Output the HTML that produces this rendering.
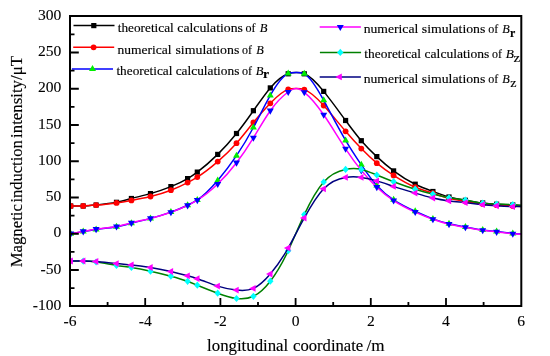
<!DOCTYPE html><html><head><meta charset="utf-8"><style>html,body{margin:0;padding:0;background:#fff;width:550px;height:356px;overflow:hidden}svg{display:block}text{font-family:"Liberation Serif",serif;fill:#000;stroke:#000;stroke-width:0.15}</style></head><body>
<svg width="550" height="356" viewBox="0 0 550 356">
<defs><clipPath id="c"><rect x="70.0" y="16.0" width="451.3" height="290.0"/></clipPath></defs>
<rect width="550" height="356" fill="#fff"/>
<g clip-path="url(#c)">
<path d="M70.70,206.00 C74.87,206.08 79.03,206.16 83.20,206.00 C87.50,205.83 91.80,205.41 96.10,205.00 C102.90,204.35 109.70,203.72 116.50,202.30 C121.47,201.26 126.43,199.81 131.40,198.50 C137.77,196.83 144.13,195.40 150.50,193.60 C157.30,191.68 164.10,189.32 170.90,186.60 C176.47,184.37 182.03,181.90 187.60,178.60 C190.83,176.69 194.07,174.49 197.30,172.10 C204.10,167.06 210.90,161.13 217.70,154.40 C223.97,148.20 230.23,141.31 236.50,133.50 C242.13,126.48 247.77,118.70 253.40,110.70 C259.03,102.70 264.67,94.48 270.30,87.90 C276.27,80.93 282.23,75.80 288.20,73.80 C290.88,72.90 293.57,72.63 296.25,72.60 C298.93,72.57 301.62,72.78 304.30,73.80 C310.77,76.25 317.23,83.39 323.70,91.40 C331.00,100.44 338.30,110.57 345.60,120.50 C350.83,127.62 356.07,134.62 361.30,140.70 C366.47,146.70 371.63,151.80 376.80,156.60 C382.40,161.81 388.00,166.67 393.60,170.90 C400.80,176.34 408.00,180.73 415.20,184.20 C421.10,187.05 427.00,189.27 432.90,191.50 C438.27,193.52 443.63,195.55 449.00,197.00 C454.47,198.48 459.93,199.37 465.40,200.30 C471.17,201.28 476.93,202.30 482.70,203.00 C487.33,203.57 491.97,203.93 496.60,204.20 C502.00,204.52 507.40,204.71 512.80,205.00 C515.63,205.15 518.47,205.33 521.30,205.50" fill="none" stroke="#000000" stroke-width="1.5"/>
<rect x="68.10" y="203.40" width="5.20" height="5.20" fill="#000000"/>
<rect x="80.60" y="203.40" width="5.20" height="5.20" fill="#000000"/>
<rect x="93.50" y="202.40" width="5.20" height="5.20" fill="#000000"/>
<rect x="113.90" y="199.70" width="5.20" height="5.20" fill="#000000"/>
<rect x="128.80" y="195.90" width="5.20" height="5.20" fill="#000000"/>
<rect x="147.90" y="191.00" width="5.20" height="5.20" fill="#000000"/>
<rect x="168.30" y="184.00" width="5.20" height="5.20" fill="#000000"/>
<rect x="185.00" y="176.00" width="5.20" height="5.20" fill="#000000"/>
<rect x="194.70" y="169.50" width="5.20" height="5.20" fill="#000000"/>
<rect x="215.10" y="151.80" width="5.20" height="5.20" fill="#000000"/>
<rect x="233.90" y="130.90" width="5.20" height="5.20" fill="#000000"/>
<rect x="250.80" y="108.10" width="5.20" height="5.20" fill="#000000"/>
<rect x="267.70" y="85.30" width="5.20" height="5.20" fill="#000000"/>
<rect x="285.60" y="71.20" width="5.20" height="5.20" fill="#000000"/>
<rect x="301.70" y="71.20" width="5.20" height="5.20" fill="#000000"/>
<rect x="321.10" y="88.80" width="5.20" height="5.20" fill="#000000"/>
<rect x="343.00" y="117.90" width="5.20" height="5.20" fill="#000000"/>
<rect x="358.70" y="138.10" width="5.20" height="5.20" fill="#000000"/>
<rect x="374.20" y="154.00" width="5.20" height="5.20" fill="#000000"/>
<rect x="391.00" y="168.30" width="5.20" height="5.20" fill="#000000"/>
<rect x="412.60" y="181.60" width="5.20" height="5.20" fill="#000000"/>
<rect x="430.30" y="188.90" width="5.20" height="5.20" fill="#000000"/>
<rect x="446.40" y="194.40" width="5.20" height="5.20" fill="#000000"/>
<rect x="462.80" y="197.70" width="5.20" height="5.20" fill="#000000"/>
<rect x="480.10" y="200.40" width="5.20" height="5.20" fill="#000000"/>
<rect x="494.00" y="201.60" width="5.20" height="5.20" fill="#000000"/>
<rect x="510.20" y="202.40" width="5.20" height="5.20" fill="#000000"/>
<path d="M70.70,206.00 C74.87,206.07 79.03,206.14 83.20,206.00 C87.50,205.85 91.80,205.48 96.10,205.10 C102.90,204.50 109.70,203.87 116.50,202.90 C121.47,202.19 126.43,201.31 131.40,200.40 C137.77,199.24 144.13,198.04 150.50,196.50 C157.30,194.86 164.10,192.83 170.90,190.20 C176.47,188.05 182.03,185.49 187.60,182.60 C190.83,180.92 194.07,179.13 197.30,177.10 C204.10,172.83 210.90,167.48 217.70,161.60 C223.97,156.18 230.23,150.32 236.50,143.20 C242.13,136.80 247.77,129.40 253.40,122.50 C259.03,115.60 264.67,109.21 270.30,103.30 C276.27,97.04 282.23,91.30 288.20,89.40 C290.88,88.54 293.57,88.46 296.25,88.50 C298.93,88.54 301.62,88.70 304.30,89.60 C310.77,91.77 317.23,98.26 323.70,105.50 C331.00,113.67 338.30,122.79 345.60,131.30 C350.83,137.40 356.07,143.20 361.30,148.60 C366.47,153.93 371.63,158.89 376.80,163.20 C382.40,167.87 388.00,171.78 393.60,175.40 C400.80,180.05 408.00,184.22 415.20,187.20 C421.10,189.64 427.00,191.29 432.90,193.20 C438.27,194.94 443.63,196.89 449.00,198.30 C454.47,199.74 459.93,200.63 465.40,201.50 C471.17,202.42 476.93,203.33 482.70,204.00 C487.33,204.54 491.97,204.92 496.60,205.20 C502.00,205.53 507.40,205.72 512.80,206.00 C515.63,206.15 518.47,206.32 521.30,206.50" fill="none" stroke="#ff0000" stroke-width="1.5"/>
<circle cx="70.70" cy="206.00" r="2.9" fill="#ff0000"/>
<circle cx="83.20" cy="206.00" r="2.9" fill="#ff0000"/>
<circle cx="96.10" cy="205.10" r="2.9" fill="#ff0000"/>
<circle cx="116.50" cy="202.90" r="2.9" fill="#ff0000"/>
<circle cx="131.40" cy="200.40" r="2.9" fill="#ff0000"/>
<circle cx="150.50" cy="196.50" r="2.9" fill="#ff0000"/>
<circle cx="170.90" cy="190.20" r="2.9" fill="#ff0000"/>
<circle cx="187.60" cy="182.60" r="2.9" fill="#ff0000"/>
<circle cx="197.30" cy="177.10" r="2.9" fill="#ff0000"/>
<circle cx="217.70" cy="161.60" r="2.9" fill="#ff0000"/>
<circle cx="236.50" cy="143.20" r="2.9" fill="#ff0000"/>
<circle cx="253.40" cy="122.50" r="2.9" fill="#ff0000"/>
<circle cx="270.30" cy="103.30" r="2.9" fill="#ff0000"/>
<circle cx="288.20" cy="89.40" r="2.9" fill="#ff0000"/>
<circle cx="304.30" cy="89.60" r="2.9" fill="#ff0000"/>
<circle cx="323.70" cy="105.50" r="2.9" fill="#ff0000"/>
<circle cx="345.60" cy="131.30" r="2.9" fill="#ff0000"/>
<circle cx="361.30" cy="148.60" r="2.9" fill="#ff0000"/>
<circle cx="376.80" cy="163.20" r="2.9" fill="#ff0000"/>
<circle cx="393.60" cy="175.40" r="2.9" fill="#ff0000"/>
<circle cx="415.20" cy="187.20" r="2.9" fill="#ff0000"/>
<circle cx="432.90" cy="193.20" r="2.9" fill="#ff0000"/>
<circle cx="449.00" cy="198.30" r="2.9" fill="#ff0000"/>
<circle cx="465.40" cy="201.50" r="2.9" fill="#ff0000"/>
<circle cx="482.70" cy="204.00" r="2.9" fill="#ff0000"/>
<circle cx="496.60" cy="205.20" r="2.9" fill="#ff0000"/>
<circle cx="512.80" cy="206.00" r="2.9" fill="#ff0000"/>
<path d="M70.70,233.70 C74.87,233.01 79.03,232.32 83.20,231.60 C87.50,230.86 91.80,230.09 96.10,229.50 C102.90,228.57 109.70,228.09 116.50,226.80 C121.47,225.86 126.43,224.48 131.40,223.20 C137.77,221.56 144.13,220.09 150.50,218.40 C157.30,216.60 164.10,214.56 170.90,212.10 C176.47,210.09 182.03,207.80 187.60,205.20 C190.83,203.69 194.07,202.07 197.30,199.90 C204.10,195.34 210.90,188.33 217.70,180.40 C223.97,173.09 230.23,165.00 236.50,155.70 C242.13,147.34 247.77,137.99 253.40,127.50 C259.03,117.01 264.67,105.36 270.30,95.40 C276.27,84.85 282.23,76.19 288.20,73.60 C290.88,72.43 293.57,72.49 296.25,72.50 C298.93,72.51 301.62,72.46 304.30,73.80 C310.77,77.04 317.23,88.36 323.70,100.30 C331.00,113.78 338.30,128.04 345.60,140.40 C350.83,149.26 356.07,157.14 361.30,164.80 C366.47,172.37 371.63,179.73 376.80,185.50 C382.40,191.76 388.00,196.15 393.60,199.80 C400.80,204.49 408.00,207.95 415.20,211.30 C421.10,214.05 427.00,216.72 432.90,218.90 C438.27,220.88 443.63,222.46 449.00,223.70 C454.47,224.96 459.93,225.87 465.40,226.90 C471.17,227.99 476.93,229.21 482.70,230.00 C487.33,230.63 491.97,230.99 496.60,231.50 C502.00,232.10 507.40,232.91 512.80,233.40 C515.63,233.66 518.47,233.83 521.30,234.00" fill="none" stroke="#0000ff" stroke-width="1.5"/>
<path d="M70.70,229.70L74.20,235.70L67.20,235.70Z" fill="#00ee00"/>
<path d="M83.20,227.60L86.70,233.60L79.70,233.60Z" fill="#00ee00"/>
<path d="M96.10,225.50L99.60,231.50L92.60,231.50Z" fill="#00ee00"/>
<path d="M116.50,222.80L120.00,228.80L113.00,228.80Z" fill="#00ee00"/>
<path d="M131.40,219.20L134.90,225.20L127.90,225.20Z" fill="#00ee00"/>
<path d="M150.50,214.40L154.00,220.40L147.00,220.40Z" fill="#00ee00"/>
<path d="M170.90,208.10L174.40,214.10L167.40,214.10Z" fill="#00ee00"/>
<path d="M187.60,201.20L191.10,207.20L184.10,207.20Z" fill="#00ee00"/>
<path d="M197.30,195.90L200.80,201.90L193.80,201.90Z" fill="#00ee00"/>
<path d="M217.70,176.40L221.20,182.40L214.20,182.40Z" fill="#00ee00"/>
<path d="M236.50,151.70L240.00,157.70L233.00,157.70Z" fill="#00ee00"/>
<path d="M253.40,123.50L256.90,129.50L249.90,129.50Z" fill="#00ee00"/>
<path d="M270.30,91.40L273.80,97.40L266.80,97.40Z" fill="#00ee00"/>
<path d="M288.20,69.60L291.70,75.60L284.70,75.60Z" fill="#00ee00"/>
<path d="M304.30,69.80L307.80,75.80L300.80,75.80Z" fill="#00ee00"/>
<path d="M323.70,96.30L327.20,102.30L320.20,102.30Z" fill="#00ee00"/>
<path d="M345.60,136.40L349.10,142.40L342.10,142.40Z" fill="#00ee00"/>
<path d="M361.30,160.80L364.80,166.80L357.80,166.80Z" fill="#00ee00"/>
<path d="M376.80,181.50L380.30,187.50L373.30,187.50Z" fill="#00ee00"/>
<path d="M393.60,195.80L397.10,201.80L390.10,201.80Z" fill="#00ee00"/>
<path d="M415.20,207.30L418.70,213.30L411.70,213.30Z" fill="#00ee00"/>
<path d="M432.90,214.90L436.40,220.90L429.40,220.90Z" fill="#00ee00"/>
<path d="M449.00,219.70L452.50,225.70L445.50,225.70Z" fill="#00ee00"/>
<path d="M465.40,222.90L468.90,228.90L461.90,228.90Z" fill="#00ee00"/>
<path d="M482.70,226.00L486.20,232.00L479.20,232.00Z" fill="#00ee00"/>
<path d="M496.60,227.50L500.10,233.50L493.10,233.50Z" fill="#00ee00"/>
<path d="M512.80,229.40L516.30,235.40L509.30,235.40Z" fill="#00ee00"/>
<path d="M70.70,233.70 C74.87,232.94 79.03,232.17 83.20,231.40 C87.50,230.60 91.80,229.80 96.10,229.20 C102.90,228.25 109.70,227.80 116.50,226.50 C121.47,225.55 126.43,224.14 131.40,222.90 C137.77,221.31 144.13,219.98 150.50,218.40 C157.30,216.71 164.10,214.72 170.90,212.30 C176.47,210.32 182.03,208.06 187.60,205.40 C190.83,203.85 194.07,202.18 197.30,200.20 C204.10,196.05 210.90,190.58 217.70,184.00 C223.97,177.93 230.23,170.91 236.50,162.70 C242.13,155.32 247.77,146.97 253.40,137.80 C259.03,128.63 264.67,118.63 270.30,110.70 C276.27,102.30 282.23,96.23 288.20,92.00 C290.88,90.10 293.57,88.57 296.25,88.60 C298.93,88.63 301.62,90.21 304.30,92.30 C310.77,97.35 317.23,105.40 323.70,114.80 C331.00,125.42 338.30,137.76 345.60,148.80 C350.83,156.71 356.07,163.96 361.30,170.40 C366.47,176.76 371.63,182.34 376.80,187.20 C382.40,192.47 388.00,196.90 393.60,200.60 C400.80,205.35 408.00,208.88 415.20,212.10 C421.10,214.74 427.00,217.17 432.90,219.30 C438.27,221.24 443.63,222.94 449.00,224.20 C454.47,225.49 459.93,226.33 465.40,227.30 C471.17,228.32 476.93,229.50 482.70,230.30 C487.33,230.95 491.97,231.36 496.60,231.90 C502.00,232.53 507.40,233.35 512.80,233.80 C515.63,234.03 518.47,234.17 521.30,234.30" fill="none" stroke="#ff00ff" stroke-width="1.5"/>
<path d="M70.70,237.70L74.20,231.60L67.20,231.60Z" fill="#0000ff"/>
<path d="M83.20,235.40L86.70,229.30L79.70,229.30Z" fill="#0000ff"/>
<path d="M96.10,233.20L99.60,227.10L92.60,227.10Z" fill="#0000ff"/>
<path d="M116.50,230.50L120.00,224.40L113.00,224.40Z" fill="#0000ff"/>
<path d="M131.40,226.90L134.90,220.80L127.90,220.80Z" fill="#0000ff"/>
<path d="M150.50,222.40L154.00,216.30L147.00,216.30Z" fill="#0000ff"/>
<path d="M170.90,216.30L174.40,210.20L167.40,210.20Z" fill="#0000ff"/>
<path d="M187.60,209.40L191.10,203.30L184.10,203.30Z" fill="#0000ff"/>
<path d="M197.30,204.20L200.80,198.10L193.80,198.10Z" fill="#0000ff"/>
<path d="M217.70,188.00L221.20,181.90L214.20,181.90Z" fill="#0000ff"/>
<path d="M236.50,166.70L240.00,160.60L233.00,160.60Z" fill="#0000ff"/>
<path d="M253.40,141.80L256.90,135.70L249.90,135.70Z" fill="#0000ff"/>
<path d="M270.30,114.70L273.80,108.60L266.80,108.60Z" fill="#0000ff"/>
<path d="M288.20,96.00L291.70,89.90L284.70,89.90Z" fill="#0000ff"/>
<path d="M304.30,96.30L307.80,90.20L300.80,90.20Z" fill="#0000ff"/>
<path d="M323.70,118.80L327.20,112.70L320.20,112.70Z" fill="#0000ff"/>
<path d="M345.60,152.80L349.10,146.70L342.10,146.70Z" fill="#0000ff"/>
<path d="M361.30,174.40L364.80,168.30L357.80,168.30Z" fill="#0000ff"/>
<path d="M376.80,191.20L380.30,185.10L373.30,185.10Z" fill="#0000ff"/>
<path d="M393.60,204.60L397.10,198.50L390.10,198.50Z" fill="#0000ff"/>
<path d="M415.20,216.10L418.70,210.00L411.70,210.00Z" fill="#0000ff"/>
<path d="M432.90,223.30L436.40,217.20L429.40,217.20Z" fill="#0000ff"/>
<path d="M449.00,228.20L452.50,222.10L445.50,222.10Z" fill="#0000ff"/>
<path d="M465.40,231.30L468.90,225.20L461.90,225.20Z" fill="#0000ff"/>
<path d="M482.70,234.30L486.20,228.20L479.20,228.20Z" fill="#0000ff"/>
<path d="M496.60,235.90L500.10,229.80L493.10,229.80Z" fill="#0000ff"/>
<path d="M512.80,237.80L516.30,231.70L509.30,231.70Z" fill="#0000ff"/>
<path d="M70.70,261.10 C74.87,261.05 79.03,261.00 83.20,261.10 C87.50,261.20 91.80,261.47 96.10,262.00 C102.90,262.84 109.70,264.33 116.50,265.40 C121.47,266.18 126.43,266.74 131.40,267.50 C137.77,268.47 144.13,269.77 150.50,271.20 C157.30,272.73 164.10,274.40 170.90,276.20 C176.47,277.68 182.03,279.24 187.60,281.30 C190.83,282.50 194.07,283.86 197.30,285.20 C204.10,288.01 210.90,290.70 217.70,293.20 C223.97,295.50 230.23,297.64 236.50,298.50 C242.13,299.27 247.77,299.00 253.40,296.30 C259.03,293.60 264.67,288.47 270.30,281.20 C276.27,273.50 282.23,263.39 288.20,250.70 C290.88,244.99 293.57,238.77 296.25,232.60 C298.93,226.43 301.62,220.32 304.30,214.60 C310.77,200.82 317.23,189.33 323.70,182.00 C331.00,173.73 338.30,170.75 345.60,169.40 C350.83,168.43 356.07,168.29 361.30,169.40 C366.47,170.50 371.63,172.82 376.80,175.00 C382.40,177.37 388.00,179.58 393.60,181.70 C400.80,184.43 408.00,187.00 415.20,189.20 C421.10,191.01 427.00,192.56 432.90,194.10 C438.27,195.50 443.63,196.88 449.00,197.80 C454.47,198.74 459.93,199.20 465.40,200.10 C471.17,201.05 476.93,202.49 482.70,203.20 C487.33,203.77 491.97,203.88 496.60,204.00 C502.00,204.14 507.40,204.29 512.80,204.70 C515.63,204.92 518.47,205.21 521.30,205.50" fill="none" stroke="#008000" stroke-width="1.5"/>
<path d="M70.70,257.50L73.90,261.10L70.70,264.70L67.50,261.10Z" fill="#00ffff"/>
<path d="M83.20,257.50L86.40,261.10L83.20,264.70L80.00,261.10Z" fill="#00ffff"/>
<path d="M96.10,258.40L99.30,262.00L96.10,265.60L92.90,262.00Z" fill="#00ffff"/>
<path d="M116.50,261.80L119.70,265.40L116.50,269.00L113.30,265.40Z" fill="#00ffff"/>
<path d="M131.40,263.90L134.60,267.50L131.40,271.10L128.20,267.50Z" fill="#00ffff"/>
<path d="M150.50,267.60L153.70,271.20L150.50,274.80L147.30,271.20Z" fill="#00ffff"/>
<path d="M170.90,272.60L174.10,276.20L170.90,279.80L167.70,276.20Z" fill="#00ffff"/>
<path d="M187.60,277.70L190.80,281.30L187.60,284.90L184.40,281.30Z" fill="#00ffff"/>
<path d="M197.30,281.60L200.50,285.20L197.30,288.80L194.10,285.20Z" fill="#00ffff"/>
<path d="M217.70,289.60L220.90,293.20L217.70,296.80L214.50,293.20Z" fill="#00ffff"/>
<path d="M236.50,294.90L239.70,298.50L236.50,302.10L233.30,298.50Z" fill="#00ffff"/>
<path d="M253.40,292.70L256.60,296.30L253.40,299.90L250.20,296.30Z" fill="#00ffff"/>
<path d="M270.30,277.60L273.50,281.20L270.30,284.80L267.10,281.20Z" fill="#00ffff"/>
<path d="M288.20,247.10L291.40,250.70L288.20,254.30L285.00,250.70Z" fill="#00ffff"/>
<path d="M304.30,211.00L307.50,214.60L304.30,218.20L301.10,214.60Z" fill="#00ffff"/>
<path d="M323.70,178.40L326.90,182.00L323.70,185.60L320.50,182.00Z" fill="#00ffff"/>
<path d="M345.60,165.80L348.80,169.40L345.60,173.00L342.40,169.40Z" fill="#00ffff"/>
<path d="M361.30,165.80L364.50,169.40L361.30,173.00L358.10,169.40Z" fill="#00ffff"/>
<path d="M376.80,171.40L380.00,175.00L376.80,178.60L373.60,175.00Z" fill="#00ffff"/>
<path d="M393.60,178.10L396.80,181.70L393.60,185.30L390.40,181.70Z" fill="#00ffff"/>
<path d="M415.20,185.60L418.40,189.20L415.20,192.80L412.00,189.20Z" fill="#00ffff"/>
<path d="M432.90,190.50L436.10,194.10L432.90,197.70L429.70,194.10Z" fill="#00ffff"/>
<path d="M449.00,194.20L452.20,197.80L449.00,201.40L445.80,197.80Z" fill="#00ffff"/>
<path d="M465.40,196.50L468.60,200.10L465.40,203.70L462.20,200.10Z" fill="#00ffff"/>
<path d="M482.70,199.60L485.90,203.20L482.70,206.80L479.50,203.20Z" fill="#00ffff"/>
<path d="M496.60,200.40L499.80,204.00L496.60,207.60L493.40,204.00Z" fill="#00ffff"/>
<path d="M512.80,201.10L516.00,204.70L512.80,208.30L509.60,204.70Z" fill="#00ffff"/>
<path d="M70.70,261.00 C74.87,260.97 79.03,260.95 83.20,261.00 C87.50,261.05 91.80,261.19 96.10,261.50 C102.90,262.00 109.70,262.94 116.50,263.60 C121.47,264.08 126.43,264.41 131.40,264.90 C137.77,265.53 144.13,266.44 150.50,267.50 C157.30,268.63 164.10,269.93 170.90,271.50 C176.47,272.79 182.03,274.26 187.60,275.80 C190.83,276.70 194.07,277.62 197.30,278.70 C204.10,280.97 210.90,283.95 217.70,286.10 C223.97,288.09 230.23,289.38 236.50,290.10 C242.13,290.75 247.77,290.94 253.40,288.40 C259.03,285.86 264.67,280.59 270.30,274.00 C276.27,267.02 282.23,258.54 288.20,248.00 C290.88,243.26 293.57,238.10 296.25,233.00 C298.93,227.90 301.62,222.86 304.30,218.00 C310.77,206.28 317.23,195.59 323.70,188.80 C331.00,181.14 338.30,178.46 345.60,177.40 C350.83,176.64 356.07,176.71 361.30,177.40 C366.47,178.08 371.63,179.36 376.80,180.90 C382.40,182.57 388.00,184.55 393.60,186.40 C400.80,188.78 408.00,190.95 415.20,193.10 C421.10,194.87 427.00,196.62 432.90,198.00 C438.27,199.25 443.63,200.19 449.00,200.90 C454.47,201.62 459.93,202.09 465.40,202.70 C471.17,203.34 476.93,204.13 482.70,204.70 C487.33,205.16 491.97,205.49 496.60,205.80 C502.00,206.16 507.40,206.51 512.80,206.60 C515.63,206.65 518.47,206.62 521.30,206.60" fill="none" stroke="#000080" stroke-width="1.5"/>
<path d="M66.40,261.00L72.90,257.60L72.90,264.40Z" fill="#ff00ff"/>
<path d="M78.90,261.00L85.40,257.60L85.40,264.40Z" fill="#ff00ff"/>
<path d="M91.80,261.50L98.30,258.10L98.30,264.90Z" fill="#ff00ff"/>
<path d="M112.20,263.60L118.70,260.20L118.70,267.00Z" fill="#ff00ff"/>
<path d="M127.10,264.90L133.60,261.50L133.60,268.30Z" fill="#ff00ff"/>
<path d="M146.20,267.50L152.70,264.10L152.70,270.90Z" fill="#ff00ff"/>
<path d="M166.60,271.50L173.10,268.10L173.10,274.90Z" fill="#ff00ff"/>
<path d="M183.30,275.80L189.80,272.40L189.80,279.20Z" fill="#ff00ff"/>
<path d="M193.00,278.70L199.50,275.30L199.50,282.10Z" fill="#ff00ff"/>
<path d="M213.40,286.10L219.90,282.70L219.90,289.50Z" fill="#ff00ff"/>
<path d="M232.20,290.10L238.70,286.70L238.70,293.50Z" fill="#ff00ff"/>
<path d="M249.10,288.40L255.60,285.00L255.60,291.80Z" fill="#ff00ff"/>
<path d="M266.00,274.00L272.50,270.60L272.50,277.40Z" fill="#ff00ff"/>
<path d="M283.90,248.00L290.40,244.60L290.40,251.40Z" fill="#ff00ff"/>
<path d="M300.00,218.00L306.50,214.60L306.50,221.40Z" fill="#ff00ff"/>
<path d="M319.40,188.80L325.90,185.40L325.90,192.20Z" fill="#ff00ff"/>
<path d="M341.30,177.40L347.80,174.00L347.80,180.80Z" fill="#ff00ff"/>
<path d="M357.00,177.40L363.50,174.00L363.50,180.80Z" fill="#ff00ff"/>
<path d="M372.50,180.90L379.00,177.50L379.00,184.30Z" fill="#ff00ff"/>
<path d="M389.30,186.40L395.80,183.00L395.80,189.80Z" fill="#ff00ff"/>
<path d="M410.90,193.10L417.40,189.70L417.40,196.50Z" fill="#ff00ff"/>
<path d="M428.60,198.00L435.10,194.60L435.10,201.40Z" fill="#ff00ff"/>
<path d="M444.70,200.90L451.20,197.50L451.20,204.30Z" fill="#ff00ff"/>
<path d="M461.10,202.70L467.60,199.30L467.60,206.10Z" fill="#ff00ff"/>
<path d="M478.40,204.70L484.90,201.30L484.90,208.10Z" fill="#ff00ff"/>
<path d="M492.30,205.80L498.80,202.40L498.80,209.20Z" fill="#ff00ff"/>
<path d="M508.50,206.60L515.00,203.20L515.00,210.00Z" fill="#ff00ff"/>
</g>
<line x1="73.5" y1="25.6" x2="114.5" y2="25.6" stroke="#000000" stroke-width="1.5"/>
<rect x="91.20" y="23.00" width="5.20" height="5.20" fill="#000000"/>
<line x1="73.2" y1="47.3" x2="114.2" y2="47.3" stroke="#ff0000" stroke-width="1.5"/>
<circle cx="93.60" cy="47.30" r="2.9" fill="#ff0000"/>
<line x1="71.9" y1="69.1" x2="113.0" y2="69.1" stroke="#0000ff" stroke-width="1.5"/>
<path d="M92.50,65.10L96.00,71.10L89.00,71.10Z" fill="#00ee00"/>
<line x1="319.7" y1="27.0" x2="360.9" y2="27.0" stroke="#ff00ff" stroke-width="1.5"/>
<path d="M340.30,31.00L343.80,24.90L336.80,24.90Z" fill="#0000ff"/>
<line x1="319.9" y1="52.4" x2="361.1" y2="52.4" stroke="#008000" stroke-width="1.5"/>
<path d="M340.30,48.80L343.50,52.40L340.30,56.00L337.10,52.40Z" fill="#00ffff"/>
<line x1="319.7" y1="76.9" x2="360.9" y2="76.9" stroke="#000080" stroke-width="1.5"/>
<path d="M335.30,76.90L341.80,73.50L341.80,80.30Z" fill="#ff00ff"/>
<text x="117.75" y="32.00" font-size="13.40" textLength="55.99" lengthAdjust="spacingAndGlyphs">theoretical</text>
<text x="177.29" y="32.00" font-size="13.40" textLength="65.67" lengthAdjust="spacingAndGlyphs">calculations</text>
<text x="245.55" y="32.00" font-size="13.40" textLength="10.06" lengthAdjust="spacingAndGlyphs">of</text>
<text x="259.86" y="32.00" font-size="13.40" font-style="italic" textLength="7.71" lengthAdjust="spacingAndGlyphs">B</text>
<text x="117.50" y="54.00" font-size="13.40" textLength="54.08" lengthAdjust="spacingAndGlyphs">numerical</text>
<text x="175.43" y="54.00" font-size="13.40" textLength="63.92" lengthAdjust="spacingAndGlyphs">simulations</text>
<text x="242.05" y="54.00" font-size="13.40" textLength="9.96" lengthAdjust="spacingAndGlyphs">of</text>
<text x="256.26" y="54.00" font-size="13.40" font-style="italic" textLength="7.50" lengthAdjust="spacingAndGlyphs">B</text>
<text x="116.45" y="75.00" font-size="13.40" textLength="55.94" lengthAdjust="spacingAndGlyphs">theoretical</text>
<text x="175.70" y="75.00" font-size="13.40" textLength="63.64" lengthAdjust="spacingAndGlyphs">calculations</text>
<text x="241.95" y="75.00" font-size="13.40" textLength="10.06" lengthAdjust="spacingAndGlyphs">of</text>
<text x="255.66" y="75.00" font-size="13.40" font-style="italic" textLength="7.71" lengthAdjust="spacingAndGlyphs">B</text>
<text x="263.14" y="78.00" font-size="11.50" font-weight="bold" textLength="6.06" lengthAdjust="spacingAndGlyphs">r</text>
<text x="363.69" y="33.00" font-size="13.40" textLength="54.58" lengthAdjust="spacingAndGlyphs">numerical</text>
<text x="421.83" y="33.00" font-size="13.40" textLength="63.52" lengthAdjust="spacingAndGlyphs">simulations</text>
<text x="488.15" y="33.00" font-size="13.40" textLength="10.06" lengthAdjust="spacingAndGlyphs">of</text>
<text x="502.36" y="33.00" font-size="13.40" font-style="italic" textLength="7.50" lengthAdjust="spacingAndGlyphs">B</text>
<text x="510.09" y="37.00" font-size="11.50" font-weight="bold" textLength="5.27" lengthAdjust="spacingAndGlyphs">r</text>
<text x="364.35" y="58.00" font-size="13.40" textLength="56.64" lengthAdjust="spacingAndGlyphs">theoretical</text>
<text x="424.59" y="58.00" font-size="13.40" textLength="64.76" lengthAdjust="spacingAndGlyphs">calculations</text>
<text x="492.05" y="58.00" font-size="13.40" textLength="9.96" lengthAdjust="spacingAndGlyphs">of</text>
<text x="505.65" y="58.00" font-size="13.40" font-style="italic" textLength="8.13" lengthAdjust="spacingAndGlyphs">B</text>
<text x="513.61" y="61.50" font-size="11.50" textLength="6.58" lengthAdjust="spacingAndGlyphs">z</text>
<text x="363.69" y="83.00" font-size="13.40" textLength="54.58" lengthAdjust="spacingAndGlyphs">numerical</text>
<text x="421.83" y="83.00" font-size="13.40" textLength="63.52" lengthAdjust="spacingAndGlyphs">simulations</text>
<text x="488.15" y="83.00" font-size="13.40" textLength="10.06" lengthAdjust="spacingAndGlyphs">of</text>
<text x="502.36" y="83.00" font-size="13.40" font-style="italic" textLength="7.50" lengthAdjust="spacingAndGlyphs">B</text>
<text x="510.33" y="86.50" font-size="11.50" textLength="6.24" lengthAdjust="spacingAndGlyphs">z</text>
<rect x="70.0" y="16.0" width="451.3" height="290.0" fill="none" stroke="#000" stroke-width="2"/>
<path d="M107.60,306.0V302.0M145.20,306.0V298.0M182.80,306.0V302.0M220.40,306.0V298.0M258.00,306.0V302.0M295.60,306.0V298.0M333.20,306.0V302.0M370.80,306.0V298.0M408.40,306.0V302.0M446.00,306.0V298.0M483.60,306.0V302.0M70.0,288.12H74.5M70.0,270.00H78.8M70.0,251.88H74.5M70.0,233.75H78.8M70.0,215.62H74.5M70.0,197.50H78.8M70.0,179.38H74.5M70.0,161.25H78.8M70.0,143.12H74.5M70.0,125.00H78.8M70.0,106.88H74.5M70.0,88.75H78.8M70.0,70.62H74.5M70.0,52.50H78.8M70.0,34.38H74.5" stroke="#000" stroke-width="1.8" fill="none"/>
<text x="70.00" y="326.40" font-size="15.60" text-anchor="middle" style="stroke-width:0.1px">-6</text>
<text x="145.20" y="326.40" font-size="15.60" text-anchor="middle" style="stroke-width:0.1px">-4</text>
<text x="220.40" y="326.40" font-size="15.60" text-anchor="middle" style="stroke-width:0.1px">-2</text>
<text x="295.60" y="326.40" font-size="15.60" text-anchor="middle" style="stroke-width:0.1px">0</text>
<text x="370.80" y="326.40" font-size="15.60" text-anchor="middle" style="stroke-width:0.1px">2</text>
<text x="446.00" y="326.40" font-size="15.60" text-anchor="middle" style="stroke-width:0.1px">4</text>
<text x="521.20" y="326.40" font-size="15.60" text-anchor="middle" style="stroke-width:0.1px">6</text>
<text x="61.40" y="309.95" font-size="15.60" text-anchor="end" style="stroke-width:0.1px">-100</text>
<text x="61.40" y="273.70" font-size="15.60" text-anchor="end" style="stroke-width:0.1px">-50</text>
<text x="61.40" y="237.45" font-size="15.60" text-anchor="end" style="stroke-width:0.1px">0</text>
<text x="61.40" y="201.20" font-size="15.60" text-anchor="end" style="stroke-width:0.1px">50</text>
<text x="61.40" y="164.95" font-size="15.60" text-anchor="end" style="stroke-width:0.1px">100</text>
<text x="61.40" y="128.70" font-size="15.60" text-anchor="end" style="stroke-width:0.1px">150</text>
<text x="61.40" y="92.45" font-size="15.60" text-anchor="end" style="stroke-width:0.1px">200</text>
<text x="61.40" y="56.20" font-size="15.60" text-anchor="end" style="stroke-width:0.1px">250</text>
<text x="61.40" y="19.95" font-size="15.60" text-anchor="end" style="stroke-width:0.1px">300</text>
<text x="207.09" y="351.00" font-size="16.20" textLength="81.12" lengthAdjust="spacingAndGlyphs">longitudinal</text>
<text x="293.08" y="351.00" font-size="16.20" textLength="70.15" lengthAdjust="spacingAndGlyphs">coordinate</text>
<text x="366.50" y="351.00" font-size="16.20" textLength="18.07" lengthAdjust="spacingAndGlyphs">/m</text>
<g transform="translate(21.70,266.90) rotate(-90)">
<text x="-0.47" y="0" font-size="16.00" textLength="63.32" lengthAdjust="spacingAndGlyphs">Magnetic</text>
<text x="64.44" y="0" font-size="16.00" textLength="62.20" lengthAdjust="spacingAndGlyphs">induction</text>
<text x="129.03" y="0" font-size="16.00" textLength="81.84" lengthAdjust="spacingAndGlyphs">intensity/μT</text>
</g>
</svg></body></html>
